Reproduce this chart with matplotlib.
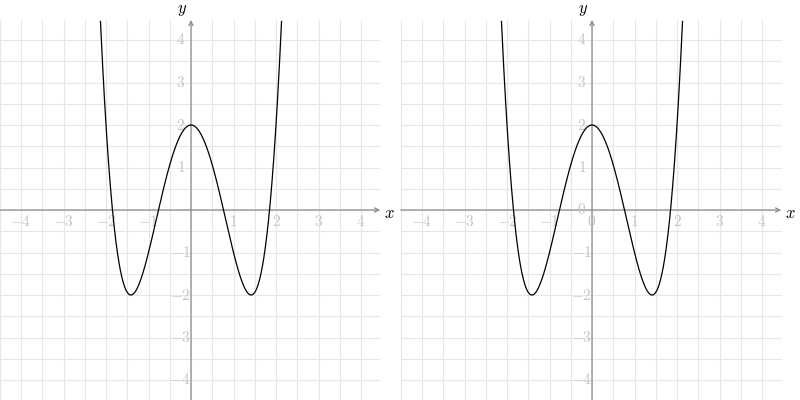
import matplotlib.pyplot as plt
import numpy as np

plt.rcParams["mathtext.fontset"] = "cm"

# polynomial drawn in both panels: y = x^4 - 4x^2 + 2
COEFFS = [1, 0, -4, 0, 2]
TICKS = [-4, -3, -2, -1, 1, 2, 3, 4]
ZERO_LABEL = [False, True]  # right panel also labels the origin

X_MIN, X_MAX = -4.5, 4.45
Y_MIN, Y_MAX = -4.5, 4.47
UNIT = 42.5  # pixels per unit

GRID_C = "#e6e6e6"
AXIS_C = "#8a8a8a"
LABEL_C = "#c4c4c4"


def _draw_panel(ax, origin_px, show_zero):
    # map the 400x400 px panel onto data units
    ax.set_xlim(-origin_px / UNIT, (400 - origin_px) / UNIT)
    ax.set_ylim(-190 / UNIT, 210 / UNIT)
    ax.set_axis_off()

    halves = np.arange(-4.5, 4.51, 0.5)
    ax.hlines(halves[halves <= Y_MAX], X_MIN, X_MAX, color=GRID_C, lw=0.8, zorder=1)
    ax.vlines(halves[halves <= X_MAX], Y_MIN, Y_MAX, color=GRID_C, lw=0.8, zorder=1)

    arrow = dict(arrowstyle="->,head_length=0.3,head_width=0.15", color=AXIS_C,
                 lw=0.9, shrinkA=0, shrinkB=0)
    ax.annotate("", xy=(X_MAX, 0), xytext=(X_MIN, 0), arrowprops=arrow, zorder=2)
    ax.annotate("", xy=(0, Y_MAX), xytext=(0, Y_MIN), arrowprops=arrow, zorder=2)
    ax.text(X_MAX + 0.08, -0.08, "$x$", fontsize=12, ha="left", va="center")
    ax.text(-0.22, Y_MAX + 0.25, "$y$", fontsize=12, ha="center", va="center")

    for t in TICKS:
        ax.text(t, -0.28, f"${t}$", color=LABEL_C, fontsize=11, ha="center", va="center")
        ax.text(-0.24, t, f"${t}$", color=LABEL_C, fontsize=11, ha="center", va="center")
    if show_zero:
        ax.text(0, -0.26, "$0$", color=LABEL_C, fontsize=11, ha="center", va="center")
        ax.text(-0.24, 0, "$0$", color=LABEL_C, fontsize=11, ha="center", va="center")

    xs = np.linspace(-2.5, 2.5, 2001)
    ys = np.polyval(COEFFS, xs)
    ys = np.where(ys <= Y_MAX, ys, np.nan)
    ax.plot(xs, ys, color="black", lw=0.9, zorder=3)


fig = plt.figure(figsize=(8, 4), dpi=100)
ax_left = fig.add_axes([0, 0, 0.5, 1])
ax_right = fig.add_axes([0.5, 0, 0.5, 1])
_draw_panel(ax_left, 191, ZERO_LABEL[0])
_draw_panel(ax_right, 192, ZERO_LABEL[1])

fig.savefig("out.png", dpi=100)
